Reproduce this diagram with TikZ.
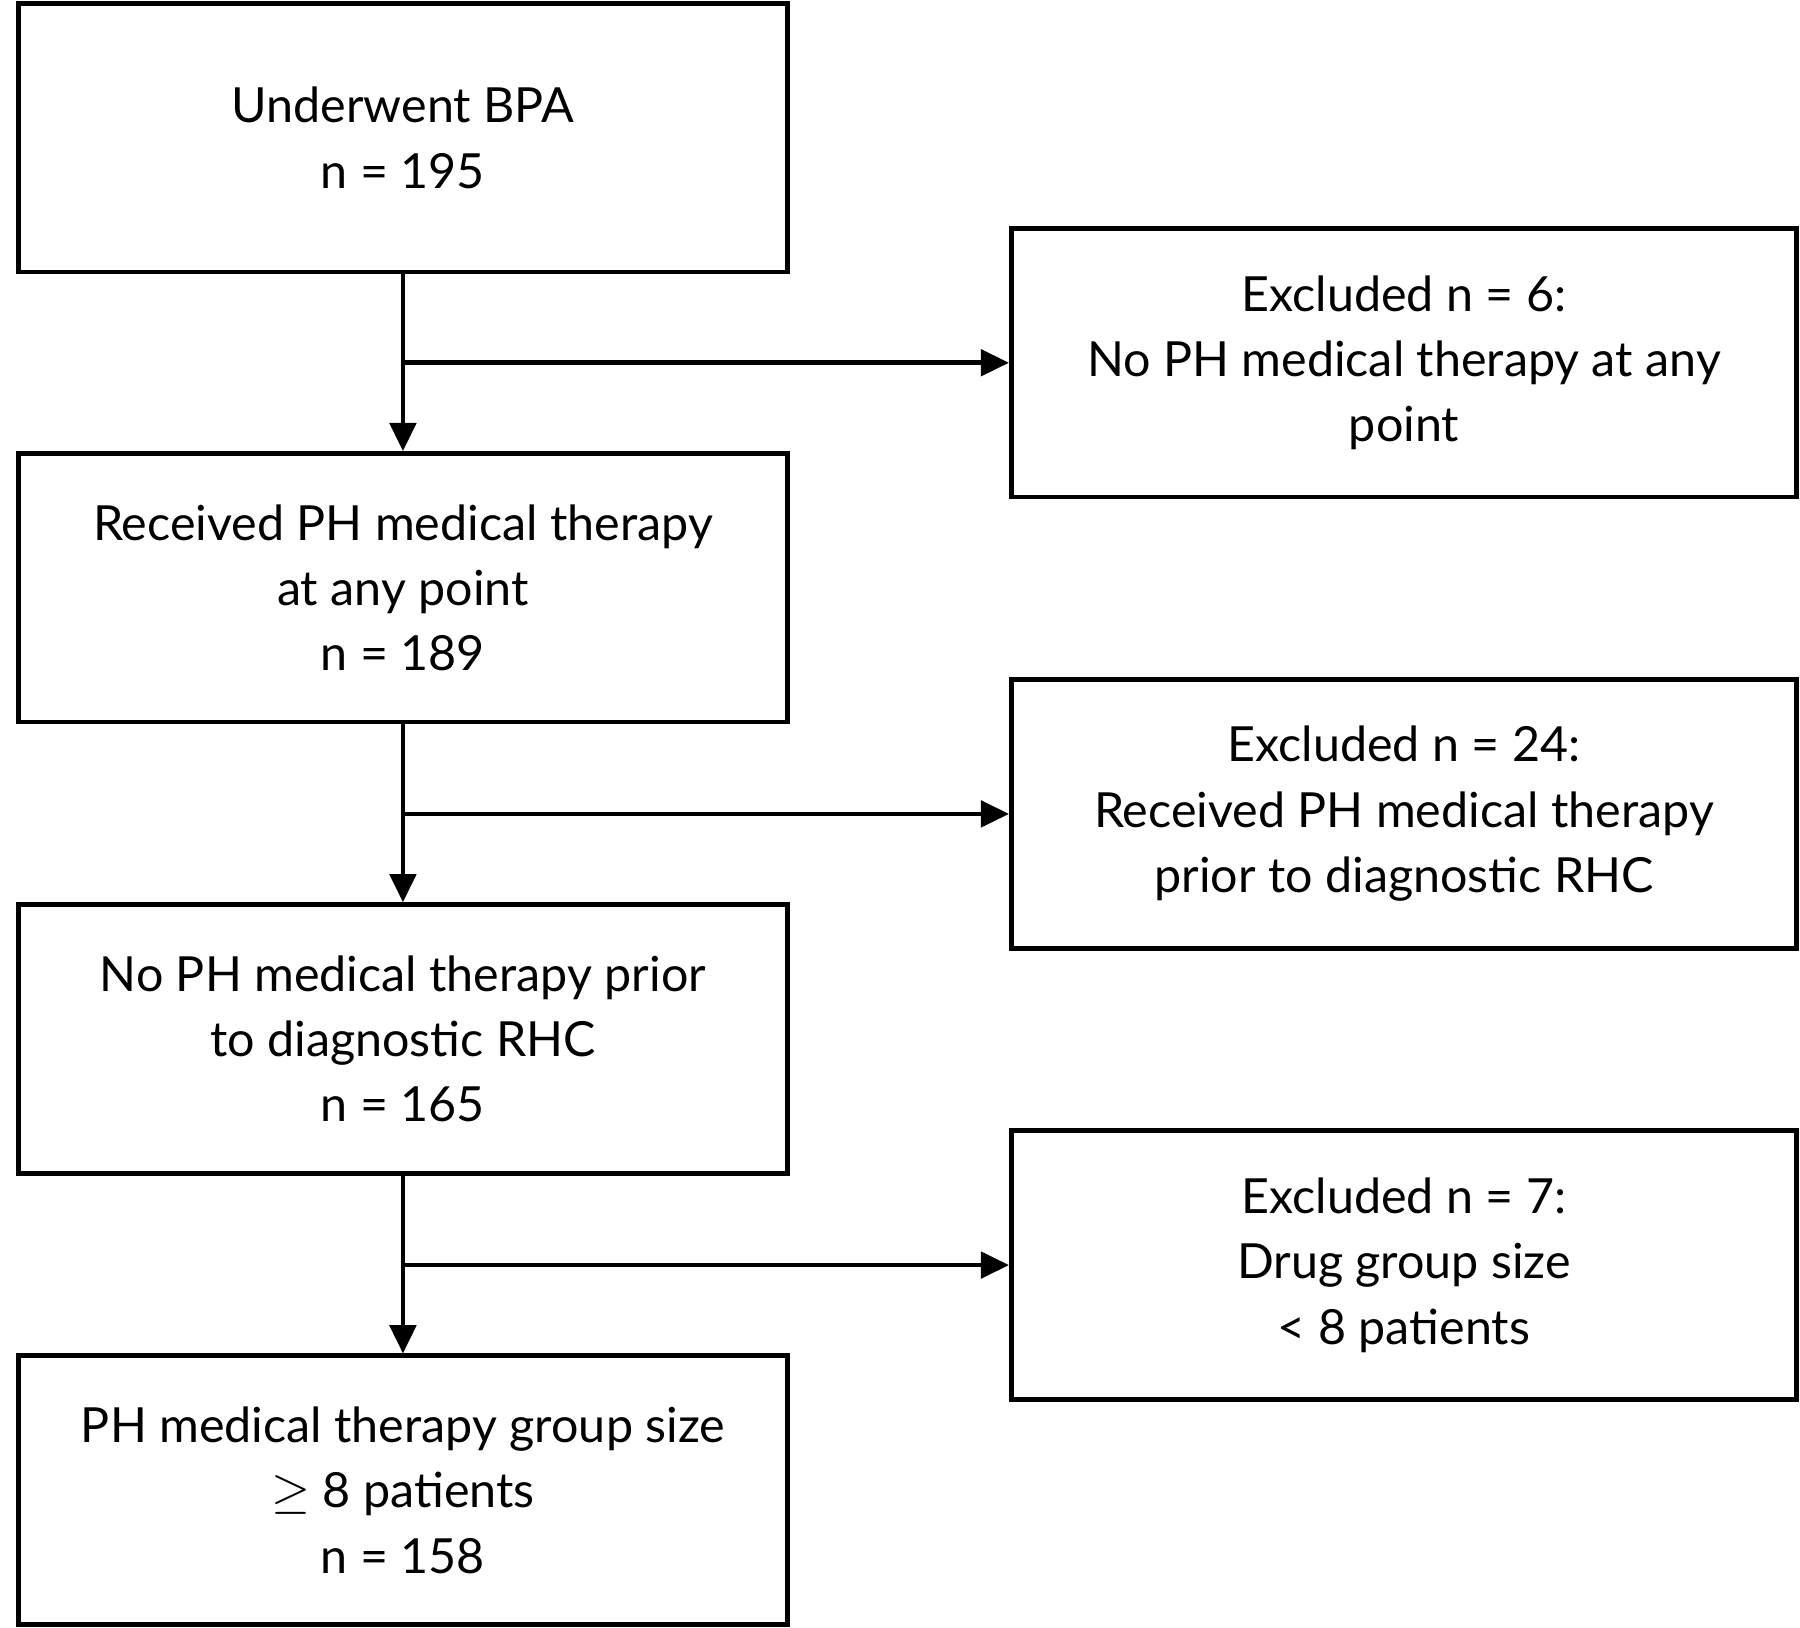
\documentclass[tikz,border=0pt]{standalone}
\usepackage{fontspec}
\setmainfont{Lato}
\usetikzlibrary{arrows.meta}
\begin{document}
\begin{tikzpicture}[x=0.02cm,y=-0.02cm,
  box/.style={draw,line width=2.3pt,align=center,font=\fontsize{24}{32.4}\selectfont},
  arr/.style={line width=2.3pt,-{Triangle[length=14pt,width=13pt]}}]
\useasboundingbox (0,0) rectangle (1568,1418);
\node[box,minimum width=670*0.02cm,minimum height=234*0.02cm] (a) at (351,120) {Underwent BPA\\n = 195};
\node[box,minimum width=670*0.02cm,minimum height=234*0.02cm] (b) at (351,512) {Received PH medical therapy\\at any point\\n = 189};
\node[box,minimum width=670*0.02cm,minimum height=234*0.02cm] (c) at (351,905) {No PH medical therapy prior\\to diagnostic RHC\\n = 165};
\node[box,minimum width=670*0.02cm,minimum height=234*0.02cm] (d) at (351,1298) {PH medical therapy group size\\$\geq$ 8 patients\\n = 158};
\node[box,minimum width=684*0.02cm,minimum height=234*0.02cm] (e1) at (1223,316) {Excluded n = 6:\\No PH medical therapy at any\\point};
\node[box,minimum width=684*0.02cm,minimum height=234*0.02cm] (e2) at (1223,709) {Excluded n = 24:\\Received PH medical therapy\\prior to diagnostic RHC};
\node[box,minimum width=684*0.02cm,minimum height=234*0.02cm] (e3) at (1223,1102) {Excluded n = 7:\\Drug group size\\< 8 patients};
\draw[arr] (a) -- (b);
\draw[arr] (b) -- (c);
\draw[arr] (c) -- (d);
\draw[arr] (351,316) -- (e1.west);
\draw[arr] (351,709) -- (e2.west);
\draw[arr] (351,1102) -- (e3.west);
\end{tikzpicture}
\end{document}
